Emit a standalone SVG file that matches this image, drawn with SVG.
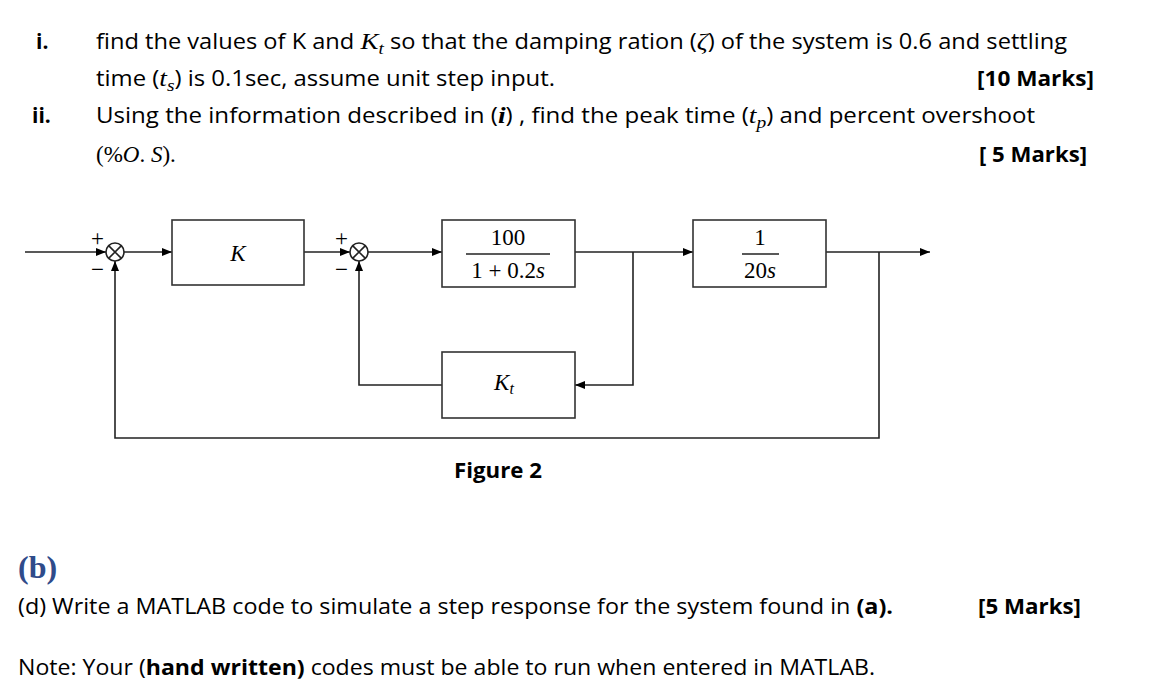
<svg xmlns="http://www.w3.org/2000/svg" width="1165" height="696" viewBox="0 0 1165 696">
<style>
.t{font-family:"Open Sans",Lato,sans-serif;font-size:21px;fill:#000}
.b{font-weight:bold}
.m{font-family:"Liberation Serif",serif;font-size:23px;fill:#000}
.mi{font-family:"Liberation Serif",serif;font-style:italic;font-size:24px}
.blk{fill:#fff;stroke:#333;stroke-width:1.6}
.ln{fill:none;stroke:#222;stroke-width:1.6}
</style>
<defs><marker id="a" markerWidth="10" markerHeight="8" refX="10" refY="4" orient="auto" markerUnits="userSpaceOnUse"><path d="M0,0L10,4L0,8z" fill="#000"/></marker></defs>
<rect width="1165" height="696" fill="#fff"/>
<text class="t b" x="36" y="49">i.</text>
<text class="t" x="96" y="49" textLength="971" lengthAdjust="spacingAndGlyphs">find the values of K and <tspan class="mi">K<tspan font-size="17" dy="5">t</tspan></tspan><tspan dy="-5"> so that the damping ration (</tspan><tspan class="mi">ζ</tspan>) of the system is 0.6 and settling</text>
<text class="t" x="96" y="86" textLength="459" lengthAdjust="spacingAndGlyphs">time (<tspan class="mi">t<tspan font-size="17" dy="5">s</tspan></tspan><tspan dy="-5">) is 0.1sec, assume unit step input.</tspan></text>
<text class="t b" x="1094" y="86" text-anchor="end" textLength="117" lengthAdjust="spacingAndGlyphs">[10 Marks]</text>
<text class="t b" x="32" y="123">ii.</text>
<text class="t" x="96" y="123" textLength="939" lengthAdjust="spacingAndGlyphs">Using the information described in (<tspan class="mi" font-weight="bold">i</tspan>) , find the peak time (<tspan class="mi">t<tspan font-size="17" dy="5">p</tspan></tspan><tspan dy="-5">)  and percent overshoot</tspan></text>
<text class="m" x="96" y="162" font-size="24">(%<tspan font-style="italic">O</tspan>. <tspan font-style="italic">S</tspan>).</text>
<text class="t b" x="1087" y="162" text-anchor="end" textLength="108" lengthAdjust="spacingAndGlyphs">[ 5 Marks]</text>

<g id="connectors">
<path class="ln" d="M25,252H106" marker-end="url(#a)"/>
<path class="ln" d="M124,252H172" marker-end="url(#a)"/>
<path class="ln" d="M304,252H350" marker-end="url(#a)"/>
<path class="ln" d="M368,252H442" marker-end="url(#a)"/>
<path class="ln" d="M575,252H693" marker-end="url(#a)"/>
<path class="ln" d="M826,252H930" marker-end="url(#a)"/>
<path class="ln" d="M633,252V385H575" marker-end="url(#a)"/>
<path class="ln" d="M442,385H359V261" marker-end="url(#a)"/>
<path class="ln" d="M879,252V438H115V261" marker-end="url(#a)"/>
</g>
<g id="sum1"><circle class="ln" cx="115" cy="252" r="9"/><path class="ln" d="M108.6,245.6L121.4,258.4M121.4,245.6L108.6,258.4"/>
<text class="m" x="91" y="246" font-size="19">+</text><text class="m" x="91" y="277" font-size="19">−</text></g>
<g id="sum2"><circle class="ln" cx="359" cy="252" r="9"/><path class="ln" d="M352.6,245.6L365.4,258.4M365.4,245.6L352.6,258.4"/>
<text class="m" x="335" y="246" font-size="19">+</text><text class="m" x="335" y="277" font-size="19">−</text></g>
<g id="K"><rect class="blk" x="172" y="220" width="132" height="65"/><text class="m" x="238" y="261" font-style="italic" text-anchor="middle">K</text></g>
<g id="G1"><rect class="blk" x="442" y="220" width="133" height="67"/><text class="m" x="508" y="245" text-anchor="middle">100</text><path class="ln" d="M466,254H550"/><text class="m" x="508" y="278" text-anchor="middle">1 + 0.2<tspan font-style="italic">s</tspan></text></g>
<g id="G2"><rect class="blk" x="693" y="220" width="133" height="67"/><text class="m" x="760" y="245" text-anchor="middle">1</text><path class="ln" d="M742,254H779"/><text class="m" x="760" y="278" text-anchor="middle">20<tspan font-style="italic">s</tspan></text></g>
<g id="Kt"><rect class="blk" x="442" y="352" width="133" height="66"/><text class="m" x="504" y="390" font-style="italic" text-anchor="middle">K<tspan font-size="16" dy="4">t</tspan></text></g>

<text class="t b" x="498" y="478" text-anchor="middle" textLength="88" lengthAdjust="spacingAndGlyphs">Figure 2</text>
<text x="18" y="578" font-family="Liberation Serif,serif" font-size="32" font-weight="bold" fill="#2f4b8a">(b)</text>
<text class="t" x="18" y="614" textLength="875" lengthAdjust="spacingAndGlyphs">(d) Write a MATLAB code to simulate a step response for the system found in <tspan class="b">(a).</tspan></text>
<text class="t b" x="1081" y="614" text-anchor="end" textLength="103" lengthAdjust="spacingAndGlyphs">[5 Marks]</text>
<text class="t" x="18" y="675" textLength="857" lengthAdjust="spacingAndGlyphs">Note: Your (<tspan class="b">hand written)</tspan> codes must be able to run when entered in MATLAB.</text>
</svg>
